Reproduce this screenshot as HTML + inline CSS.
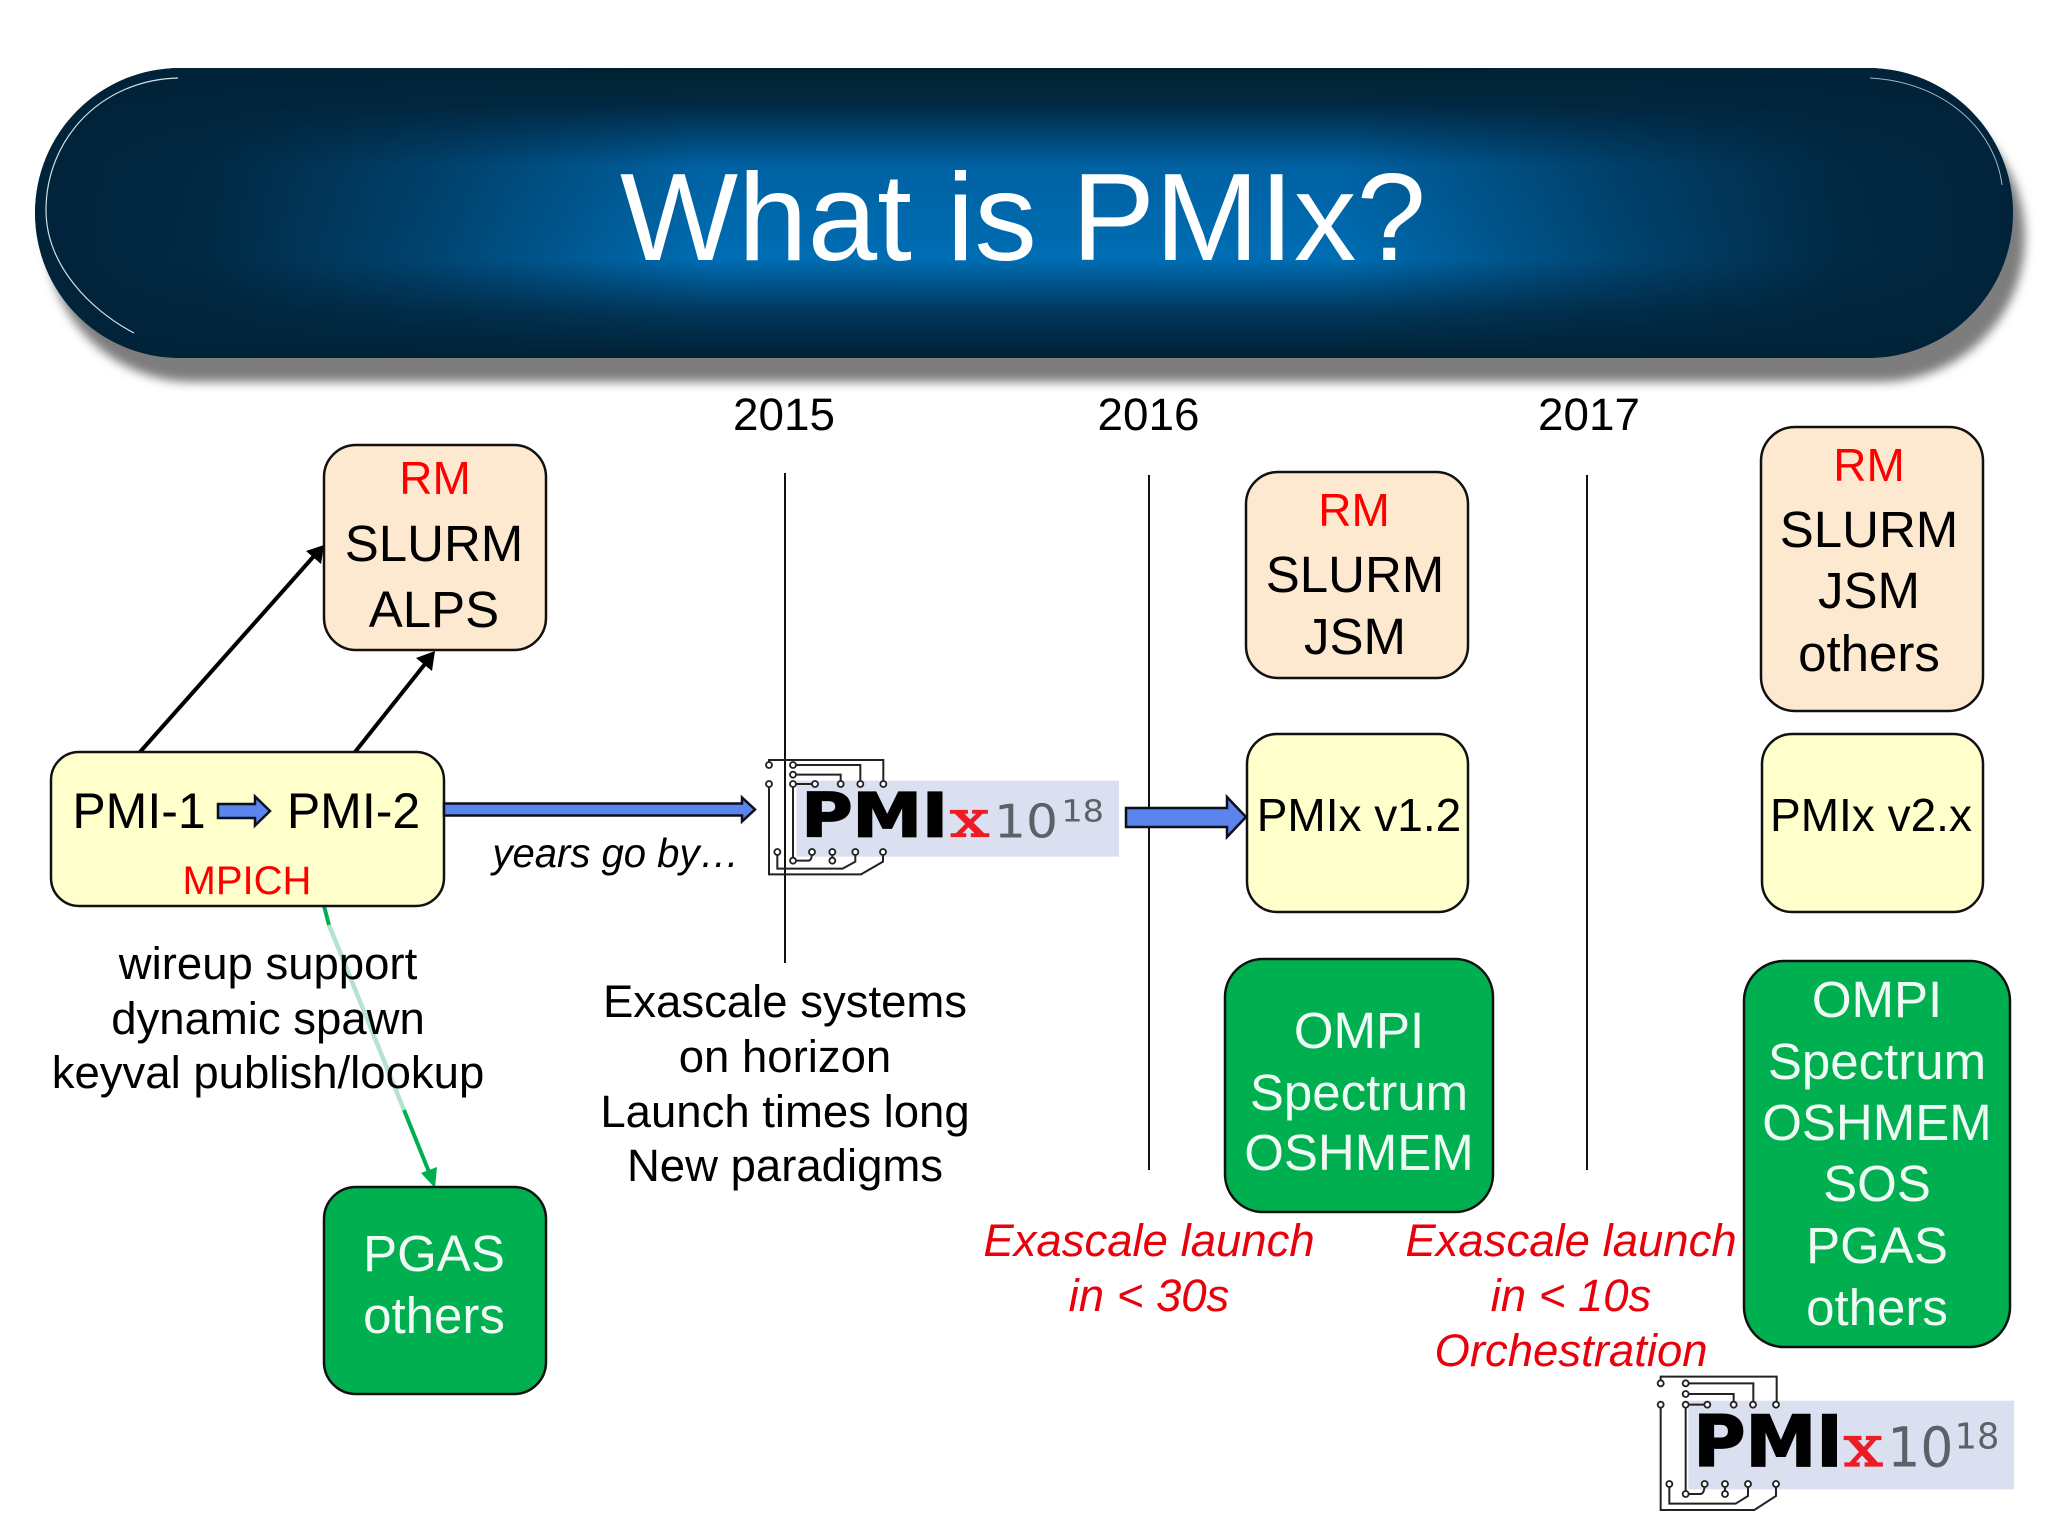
<!DOCTYPE html>
<html><head><meta charset="utf-8">
<style>
html,body{margin:0;padding:0;background:#fff;width:2048px;height:1536px;overflow:hidden}
svg{display:block}
text{font-family:"Liberation Sans",sans-serif;text-anchor:middle}
.b{font-size:51px;fill:#000}
.w{font-size:51px;fill:#f0faf4}
.r{font-size:46px;fill:#f00}
.t{font-size:45.500px;fill:#000}
.e{font-size:45.500px;fill:#e8000b;font-style:italic}
.y{font-size:45.800px;fill:#000}
.box{stroke:#111;stroke-width:2.5}
.c{fill:none;stroke:#222;stroke-width:6}
.o{fill:#fff;stroke:#222;stroke-width:5.500}
.ar{fill:#5b84ec;stroke:#0b0f1e;stroke-width:2.5}
.pmi{font-family:"DejaVu Sans",sans-serif;font-weight:bold;fill:#000;stroke:#000;stroke-width:5;text-anchor:start}
.xx{font-family:"DejaVu Serif",serif;fill:#ed1c24;stroke:#ed1c24;stroke-width:4;text-anchor:start}
.ten{font-family:"DejaVu Sans",sans-serif;fill:#5a6268;text-anchor:start}
</style></head><body>
<svg width="2048" height="1536" viewBox="0 0 2048 1536" xmlns="http://www.w3.org/2000/svg">
<defs>
<linearGradient id="v" x1="0" y1="0" x2="0" y2="1">
<stop offset="0" stop-color="#01202f"/><stop offset=".13" stop-color="#012a45"/><stop offset=".34" stop-color="#0062a3"/><stop offset=".66" stop-color="#006db3"/><stop offset=".84" stop-color="#01385c"/><stop offset="1" stop-color="#001f33"/>
</linearGradient>
<linearGradient id="h" gradientUnits="userSpaceOnUse" x1="35" y1="0" x2="2013" y2="0">
<stop offset="0" stop-color="#01233a" stop-opacity="1"/><stop offset=".09" stop-color="#01233a" stop-opacity=".9"/><stop offset=".2" stop-color="#01233a" stop-opacity=".55"/><stop offset=".34" stop-color="#01233a" stop-opacity="0"/><stop offset=".66" stop-color="#01233a" stop-opacity="0"/><stop offset=".8" stop-color="#01233a" stop-opacity=".55"/><stop offset=".91" stop-color="#01233a" stop-opacity=".9"/><stop offset="1" stop-color="#01233a" stop-opacity="1"/>
</linearGradient>
<filter id="bl" x="-5%" y="-20%" width="110%" height="140%"><feGaussianBlur stdDeviation="5"/></filter>
</defs>

<!-- title pill -->
<rect x="47" y="92" width="1978" height="290" rx="145" ry="145" fill="#7d7d7d" filter="url(#bl)"/>
<rect x="35" y="68" width="1978" height="290" rx="145" ry="145" fill="url(#v)"/>
<rect x="35" y="68" width="1978" height="290" rx="145" ry="145" fill="url(#h)"/>
<path d="M178,78 C100,80 46,140 46,210 C46,265 90,310 134,333" fill="none" stroke="#cfe0ea" stroke-width="1.2"/>
<path d="M1870,78 C1945,82 1995,130 2002,185" fill="none" stroke="#9db8c8" stroke-width="1"/>
<text x="1023" y="260" font-size="124" fill="#fff" textLength="806" lengthAdjust="spacingAndGlyphs">What is PMIx?</text>

<!-- vertical lines -->
<path d="M785,473V963M1149,475V1170M1587,475V1170" stroke="#111" stroke-width="2" fill="none"/>

<!-- black arrows -->
<path d="M140,752L314,556" stroke="#000" stroke-width="4" fill="none"/>
<path d="M324,545L321,564L306,551Z" fill="#000"/>
<path d="M355,752L425,664" stroke="#000" stroke-width="4" fill="none"/>
<path d="M435,651L432,671L416,658Z" fill="#000"/>

<!-- green arrow -->
<path d="M324,906L329,925" stroke="#00b050" stroke-width="4" fill="none"/>
<path d="M329,925L404,1110" stroke="#b5e3d0" stroke-width="4.500" fill="none"/>
<path d="M404,1110L429,1172" stroke="#00b050" stroke-width="4" fill="none"/>
<path d="M435,1188L421,1173L437,1167Z" fill="#00b050"/>

<!-- boxes -->
<rect class="box" x="324" y="445" width="222" height="205" rx="32" fill="#fde9d0"/>
<rect class="box" x="51" y="752" width="393" height="154" rx="28" fill="#ffffcc"/>
<rect class="box" x="324" y="1187" width="222" height="207" rx="32" fill="#00b050"/>
<rect class="box" x="1246" y="472" width="222" height="206" rx="32" fill="#fde9d0"/>
<rect class="box" x="1247" y="734" width="221" height="178" rx="30" fill="#ffffcc"/>
<rect class="box" x="1225" y="959" width="268" height="253" rx="38" fill="#00b050"/>
<rect class="box" x="1761" y="427" width="222" height="284" rx="34" fill="#fde9d0"/>
<rect class="box" x="1762" y="734" width="221" height="178" rx="30" fill="#ffffcc"/>
<rect class="box" x="1744" y="961" width="266" height="386" rx="40" fill="#00b050"/>

<!-- blue arrows -->
<path class="ar" d="M218,804H255V796.500L270,811L255,825.500V818H218Z"/>
<path class="ar" d="M444,803.500H742V797.500L755,809.500L742,821.500V815.500H444Z"/>
<path class="ar" d="M1126,808H1227V797L1246,817L1227,837V827H1126Z"/>

<!-- box text -->
<text class="r" x="435" y="494">RM</text>
<text class="b" x="434" y="561">SLURM</text>
<text class="b" x="434" y="627">ALPS</text>

<text x="139" y="828" font-size="50">PMI-1</text>
<text x="353.500" y="828" font-size="50">PMI-2</text>
<text x="247" y="894" font-size="40" fill="#f00">MPICH</text>

<text class="w" x="434" y="1271">PGAS</text>
<text class="w" x="434" y="1333">others</text>

<text class="r" x="1354" y="526">RM</text>
<text class="b" x="1355" y="592">SLURM</text>
<text class="b" x="1355" y="654">JSM</text>

<text x="1359" y="831" font-size="46">PMIx v1.2</text>

<text class="w" x="1359" y="1048">OMPI</text>
<text class="w" x="1359" y="1110">Spectrum</text>
<text class="w" x="1359" y="1170">OSHMEM</text>

<text class="r" x="1869" y="481">RM</text>
<text class="b" x="1869" y="547">SLURM</text>
<text class="b" x="1869" y="608">JSM</text>
<text class="b" x="1869" y="671">others</text>

<text x="1871" y="831" font-size="46">PMIx v2.x</text>

<text class="w" x="1877" y="1017">OMPI</text>
<text class="w" x="1877" y="1079">Spectrum</text>
<text class="w" x="1877" y="1140">OSHMEM</text>
<text class="w" x="1877" y="1201">SOS</text>
<text class="w" x="1877" y="1263">PGAS</text>
<text class="w" x="1877" y="1325">others</text>

<!-- free text -->
<text class="y" x="784" y="430">2015</text>
<text class="y" x="1148.500" y="430">2016</text>
<text class="y" x="1589" y="430">2017</text>

<text x="616" y="867" font-size="41" font-style="italic" textLength="247" lengthAdjust="spacingAndGlyphs">years go by…</text>

<text class="t" x="268" y="979">wireup support</text>
<text class="t" x="268" y="1034">dynamic spawn</text>
<text class="t" x="268" y="1088">keyval publish/lookup</text>

<text class="t" x="785" y="1017">Exascale systems</text>
<text class="t" x="785" y="1072">on horizon</text>
<text class="t" x="785" y="1127">Launch times long</text>
<text class="t" x="785" y="1181">New paradigms</text>

<text class="e" x="1149" y="1256">Exascale launch</text>
<text class="e" x="1149" y="1311">in &lt; 30s</text>
<text class="e" x="1571" y="1256">Exascale launch</text>
<text class="e" x="1571" y="1311">in &lt; 10s</text>
<text class="e" x="1571" y="1366">Orchestration</text>

<!-- logo 1 -->
<g transform="translate(740,740) scale(.33333)">
<rect x="170" y="122" width="967" height="228" fill="#dae0f0"/>
<path class="c" d="M87,75V60H430V132M159,75H361V132M159,104H302V132M159,132H225M87,132V403H363L429,365V336M112,336V386H308L346,365V336M159,132V362H205Q216,362 216,336M277,336V362"/>
<g class="o"><circle cx="87" cy="75" r="9"/><circle cx="159" cy="75" r="9"/><circle cx="159" cy="104" r="9"/><circle cx="87" cy="132" r="9"/><circle cx="159" cy="132" r="9"/><circle cx="225" cy="132" r="9"/><circle cx="302" cy="132" r="9"/><circle cx="361" cy="132" r="9"/><circle cx="430" cy="132" r="9"/><circle cx="112" cy="336" r="9"/><circle cx="216" cy="336" r="9"/><circle cx="277" cy="336" r="9"/><circle cx="346" cy="336" r="9"/><circle cx="429" cy="336" r="9"/><circle cx="159" cy="362" r="9"/><circle cx="277" cy="362" r="9"/></g>
<text class="pmi" x="184" y="290" font-size="183" textLength="440" lengthAdjust="spacingAndGlyphs">PMI</text>
<text class="xx" x="630" y="290" font-size="150" textLength="118" lengthAdjust="spacingAndGlyphs">x</text>
<text class="ten" x="762" y="292" font-size="140" textLength="192" lengthAdjust="spacingAndGlyphs">10</text>
<text class="ten" x="964" y="245" font-size="92" textLength="128" lengthAdjust="spacingAndGlyphs">18</text>
</g>

<!-- logo 2 -->
<g transform="translate(1640,1360) scale(.33333)">
<rect x="145" y="122" width="977" height="266" fill="#dae0f0"/>
<path class="c" d="M62,70V50H410V134M137,70H340V134M137,102H281V134M137,134H202M62,134V450H343L408,408V372M88,372V431H287L324,408V372M137,134V402H180Q194,402 194,372M255,372V402"/>
<g class="o"><circle cx="62" cy="70" r="9"/><circle cx="137" cy="70" r="9"/><circle cx="137" cy="102" r="9"/><circle cx="62" cy="134" r="9"/><circle cx="137" cy="134" r="9"/><circle cx="202" cy="134" r="9"/><circle cx="281" cy="134" r="9"/><circle cx="339" cy="134" r="9"/><circle cx="408" cy="134" r="9"/><circle cx="88" cy="372" r="9"/><circle cx="194" cy="372" r="9"/><circle cx="255" cy="372" r="9"/><circle cx="324" cy="372" r="9"/><circle cx="408" cy="372" r="9"/><circle cx="137" cy="402" r="9"/><circle cx="255" cy="402" r="9"/></g>
<text class="pmi" x="160" y="318" font-size="211" textLength="448" lengthAdjust="spacingAndGlyphs">PMI</text>
<text class="xx" x="611" y="318" font-size="170" textLength="118" lengthAdjust="spacingAndGlyphs">x</text>
<text class="ten" x="742" y="320" font-size="165" textLength="198" lengthAdjust="spacingAndGlyphs">10</text>
<text class="ten" x="944" y="265" font-size="106" textLength="134" lengthAdjust="spacingAndGlyphs">18</text>
</g>
</svg>
</body></html>
